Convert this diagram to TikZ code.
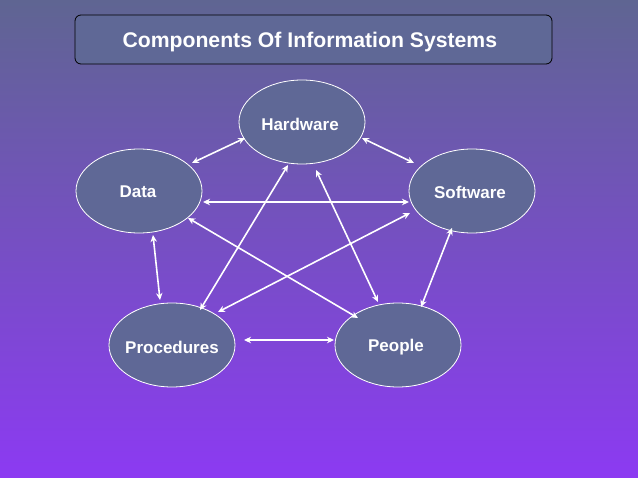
\documentclass[tikz,border=0pt]{standalone}
\usepackage{fontspec}
\setmainfont{Liberation Sans}
\usetikzlibrary{arrows.meta,shapes.geometric}
\definecolor{bgtop}{HTML}{5F6592}
\definecolor{bgbot}{HTML}{8C3AF2}
\definecolor{boxfill}{HTML}{5F6896}
\tikzset{
  comp/.style={ellipse, draw=white, line width=0.8pt, fill=boxfill, minimum width=126pt, minimum height=84pt, text=white, font=\bfseries\fontsize{17}{19}\selectfont},
  lbl/.style={text=white, font=\bfseries\fontsize{17}{19}\selectfont},
  link/.style={draw=white, line width=1.6pt, {Stealth[length=7pt,width=6.5pt]}-{Stealth[length=7pt,width=6.5pt]}}
}
\begin{document}
\begin{tikzpicture}[x=1pt,y=-1pt]
\shade[top color=bgtop, bottom color=bgbot] (0,0) rectangle (638,478);
\useasboundingbox (0,0) rectangle (638,478);
\node[draw=black, fill=boxfill, rounded corners=6pt, minimum width=477pt, minimum height=49pt, line width=0.8pt] (title) at (313.5,39.5) {};
\node[text=white, font=\bfseries\fontsize{21.2}{24}\selectfont, anchor=west] (tt) at (119,42) {Components Of Information Systems};
\node[comp] (hw) at (302,122) {};
\node[lbl] (hl) at (300,124) {Hardware};
\node[comp] (data) at (139,191) {};
\node[lbl] (dl) at (138,192) {Data};
\node[comp] (sw) at (472,191) {};
\node[lbl] (sl) at (470,192) {Software};
\node[comp] (proc) at (172,345) {};
\node[lbl] (prl) at (172,347) {Procedures};
\node[comp] (ppl) at (398,345) {};
\node[lbl] (pl) at (396,347) {People};
\coordinate (a1) at (192,163); \coordinate (a2) at (245,138);
\coordinate (b1) at (362,138); \coordinate (b2) at (414,163);
\coordinate (c1) at (203,202); \coordinate (c2) at (409,202);
\coordinate (d1) at (153,235); \coordinate (d2) at (160,300);
\coordinate (e1) at (452,228); \coordinate (e2) at (421,307);
\coordinate (f1) at (244,340); \coordinate (f2) at (334,340);
\coordinate (g1) at (288,165); \coordinate (g2) at (200,310);
\coordinate (h1) at (316,170); \coordinate (h2) at (378,302);
\coordinate (i1) at (188,218); \coordinate (i2) at (358,318);
\coordinate (j1) at (410,213); \coordinate (j2) at (218,312);
\foreach \p in {a,b,c,d,e,f,g,h,i,j} \draw[link] (\p1) -- (\p2);
\end{tikzpicture}
\end{document}
